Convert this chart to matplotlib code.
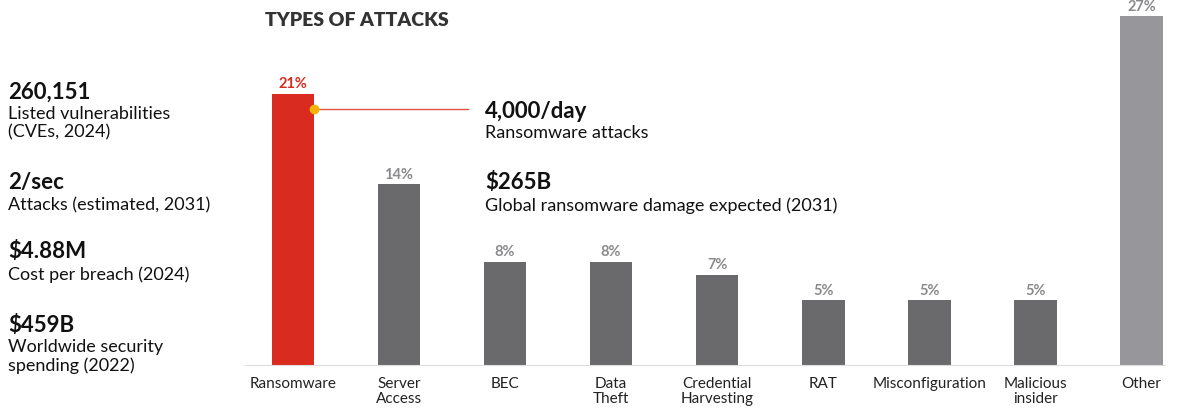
import matplotlib
matplotlib.use("Agg")
import matplotlib.pyplot as plt

categories = ["Ransomware", "Server\nAccess", "BEC", "Data\nTheft", "Credential\nHarvesting",
              "RAT", "Misconfiguration", "Malicious\ninsider", "Other"]
values = [21, 14, 8, 8, 7, 5, 5, 5, 27]
colors = ["#D92B1F"] + ["#6A6A6D"] * 7 + ["#97979B"]
label_colors = ["#D92B1F"] + ["#8A8A8D"] * 8

stats = [("260,151", "Listed vulnerabilities\n(CVEs, 2024)"),
         ("2/sec", "Attacks (estimated, 2031)"),
         ("$4.88M", "Cost per breach (2024)"),
         ("$459B", "Worldwide security\nspending (2022)")]
callouts = [("4,000/day", "Ransomware attacks"),
            ("$265B", "Global ransomware damage expected (2031)")]

plt.rcParams['font.family'] = ['Lato', 'DejaVu Sans']
fig = plt.figure(figsize=(12, 4.1), dpi=100)
ax = fig.add_axes([245/1200, 1-366/410, 920/1200, 362/410])
x = list(range(len(categories)))
ax.bar(x, values, width=0.4, color=colors, zorder=2)
ax.set_xlim(-0.45, 8.22)
ax.set_ylim(0, 28)
for xi, v, c in zip(x, values, label_colors):
    ax.text(xi, v + 0.25, f"{v}%", ha="center", va="bottom", fontsize=10.5,
            fontweight="bold", color=c)
ax.set_xticks(x)
ax.set_xticklabels(categories, fontsize=11, color="#222222", linespacing=1.1)
ax.tick_params(axis="x", length=0, pad=8)
ax.set_yticks([])
for s in ["top", "right", "left"]:
    ax.spines[s].set_visible(False)
ax.spines["bottom"].set_color("#DDDDDD")

# connector
yc = 19.8
ax.plot([0.2, 1.65], [yc, yc], color="#E0523F", lw=1, zorder=3, clip_on=False)
ax.plot([0.2], [yc], "o", color="#F5B400", ms=6, zorder=4, clip_on=False)

fig.text(265/1200, 1-20/410, "TYPES OF ATTACKS", fontsize=14, fontweight="heavy",
         color="#333333", va="center")

ys = [92, 183, 252, 325]
for (big, small), y in zip(stats, ys):
    fig.text(8/1200, 1-y/410, big, fontsize=16, fontweight="bold", color="#111111", va="center")
    fig.text(8/1200, 1-(y+14)/410, small, fontsize=13, color="#111111", va="top", linespacing=1.2)

for (big, small), y in zip(callouts, [111, 183]):
    fig.text(485/1200, 1-y/410, big, fontsize=16, fontweight="bold", color="#111111", va="center")
    fig.text(485/1200, 1-(y+14)/410, small, fontsize=13, color="#111111", va="top")

fig.savefig("out.png", dpi=100, facecolor="white")
